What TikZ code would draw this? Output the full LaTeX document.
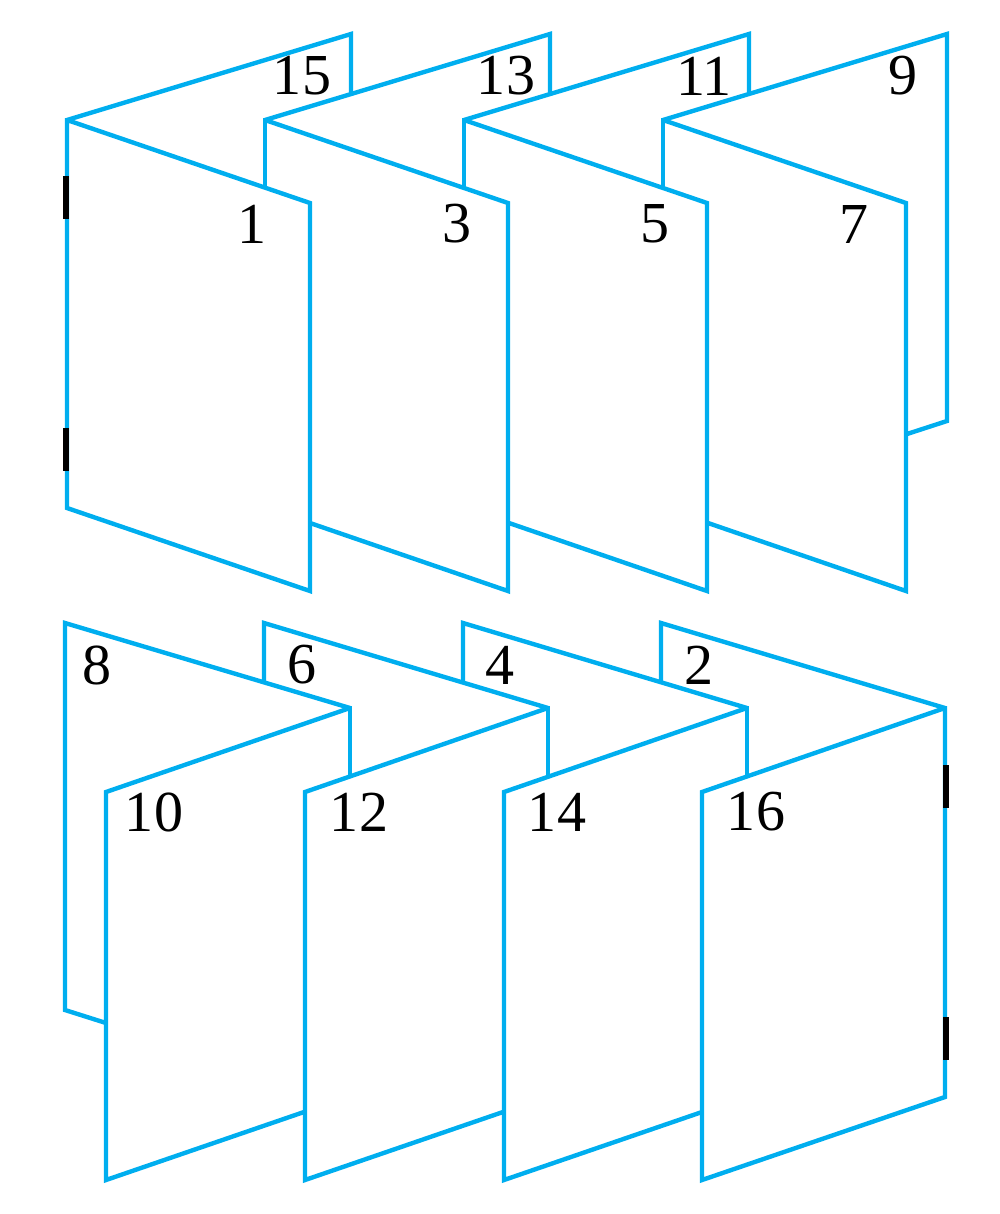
\documentclass[tikz,border=0pt]{standalone}
\usepackage{fontspec}
\setmainfont{Liberation Serif}
\definecolor{fold}{HTML}{00AEEF}
\tikzset{
  page/.style={draw=fold,line width=1.25pt,line join=miter,miter limit=2.5},
  stitch/.style={fill=black,draw=none},
  num/.style={font=\fontsize{16.5}{16.5}\selectfont,text=black,inner sep=0pt,anchor=center}
}
\begin{document}
\begin{tikzpicture}[x=0.01cm,y=-0.01cm]
\useasboundingbox (0,0) rectangle (1000,1214);
% top row
\draw[page] (351,93) -- (351,34) -- (67,120) -- (310,203) -- (310,591) -- (67,508) -- (67,118);
\draw[page] (550,93) -- (550,34) -- (265,120) -- (508,203) -- (508,591) -- (310,523);
\draw[page] (265,118) -- (265,187);
\draw[page] (749,93) -- (749,34) -- (464,120) -- (707,203) -- (707,591) -- (509,523);
\draw[page] (464,118) -- (464,187);
\draw[page] (907,434) -- (947,421) -- (947,34) -- (663,120) -- (906,203) -- (906,591) -- (708,523);
\draw[page] (663,118) -- (663,187);
\fill[stitch] (63,176) rectangle (69,219);
\fill[stitch] (63,428) rectangle (69,471);
% bottom row
\draw[page] (106,1023) -- (65,1010) -- (65,623) -- (350,708) -- (106,792) -- (106,1180) -- (304,1112);
\draw[page] (350,706) -- (350,776);
\draw[page] (264,683) -- (264,623) -- (548,708) -- (305,792) -- (305,1180) -- (503,1112);
\draw[page] (548,706) -- (548,776);
\draw[page] (463,683) -- (463,623) -- (747,708) -- (504,792) -- (504,1180) -- (702,1112);
\draw[page] (747,706) -- (747,776);
\draw[page] (661,683) -- (661,623) -- (945,708) -- (702,792) -- (702,1180) -- (945,1097) -- (945,706);
\fill[stitch] (943,765) rectangle (949,808);
\fill[stitch] (943,1017) rectangle (949,1060);
% numbers
\node[num] (n15) at (302,76) {15};
\node[num] (n13) at (506,76) {13};
\node[num] (n11) at (704,76) {11};
\node[num] (n9) at (903,76) {9};
\node[num] (n1) at (252,224) {1};
\node[num] (n3) at (457,224) {3};
\node[num] (n5) at (655,224) {5};
\node[num] (n7) at (854,224) {7};
\node[num] (n8) at (97,665) {8};
\node[num] (n6) at (302,665) {6};
\node[num] (n4) at (500,665) {4};
\node[num] (n2) at (699,665) {2};
\node[num] (n10) at (154,812) {10};
\node[num] (n12) at (359,812) {12};
\node[num] (n14) at (557,812) {14};
\node[num] (n16) at (756,812) {16};
\end{tikzpicture}
\end{document}
